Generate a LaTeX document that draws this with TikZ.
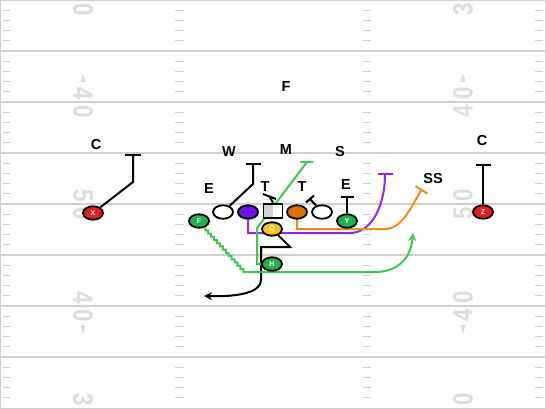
\documentclass[tikz,border=0pt]{standalone}
\usepackage{fontspec}
\setmainfont{Liberation Sans}
\usetikzlibrary{shapes.geometric,arrows.meta,calc}
\pgfdeclarelayer{background}
\pgfsetlayers{background,main}
\definecolor{fieldline}{HTML}{CFCFCF}
\definecolor{numgray}{HTML}{DDDDDD}
\definecolor{pgreen}{HTML}{22B14C}
\definecolor{rgreen}{HTML}{3CC850}
\definecolor{ppurple}{HTML}{7015E8}
\definecolor{rpurple}{HTML}{8A2BF0}
\definecolor{porange}{HTML}{E07000}
\definecolor{rorange}{HTML}{F08A1C}
\definecolor{pyellow}{HTML}{F5C518}
\definecolor{pred}{HTML}{E81B23}
\tikzset{
  fieldln/.style={draw=fieldline, line width=1.3pt},
  hashmark/.style={draw=fieldline, line width=1pt},
  numl/.style={text=numgray, inner sep=0pt, rotate=-90, font=\fontsize{28}{28}\selectfont\bfseries},
  numr/.style={text=numgray, inner sep=0pt, rotate=90, font=\fontsize{28}{28}\selectfont\bfseries},
  player/.style={ellipse, draw=black, line width=1.8pt, minimum width=20pt, minimum height=13.5pt, inner sep=0pt, text=white, font=\fontsize{7}{7}\selectfont\bfseries},
  lbl/.style={inner sep=0pt, font=\fontsize{14.5}{14.5}\selectfont\bfseries},
  rt/.style={draw=black, line width=2pt},
  rtg/.style={draw=rgreen, line width=2pt},
}
\begin{document}
\begin{tikzpicture}[x=1pt,y=-1pt]
\useasboundingbox (0,0) rectangle (546,409);

% players
\node[player, fill=pred] (X) at (93,213) {X};
\node[player, fill=pred] (Z) at (483,212) {Z};
\node[player, fill=white] (LT) at (223,212) {};
\node[player, fill=ppurple] (LG) at (248,212) {};
\node[draw, line width=1.8pt, minimum width=19pt, minimum height=14.5pt, inner sep=0pt, fill=white,
  path picture={\fill[gray!35] (path picture bounding box.south west) rectangle (path picture bounding box.north);}] (C) at (273,211) {};
\node[player, fill=porange] (RG) at (297,212) {};
\node[player, fill=white] (RT) at (322,212) {};
\node[player, fill=pgreen] (Y) at (347,221) {Y};
\node[player, fill=pgreen] (F) at (199,221) {F};
\node[player, fill=pyellow] (Q) at (272,229) {Q};
\node[player, fill=pgreen] (H) at (272,264) {H};

% defender labels
\node[lbl] (dF) at (286,87) {F};
\node[lbl] (dCL) at (96,145) {C};
\node[lbl] (dCR) at (482,141) {C};
\node[lbl] (dW) at (229,152) {W};
\node[lbl] (dM) at (286,150) {M};
\node[lbl] (dS) at (340,152) {S};
\node[lbl] (dEL) at (209,189) {E};
\node[lbl] (dTL) at (265,187) {T};
\node[lbl] (dTR) at (302,187) {T};
\node[lbl] (dER) at (346,185) {E};
\node[lbl] (dSS) at (433,179) {SS};

\begin{pgfonlayer}{background}
% field
\foreach \yy in {51,102,153,204,255,306,357} \draw[fieldln] (0,\yy) -- (546,\yy);
\draw[fieldln] (0.7,0.7) rectangle (545.3,408.3);
\foreach \k in {0,...,7} {
  \foreach \j in {1,...,4} {
    \pgfmathsetmacro\hy{51*\k+10.2*\j}
    \draw[hashmark] (3,\hy) -- (10,\hy);
    \draw[hashmark] (175,\hy) -- (184,\hy);
    \draw[hashmark] (363,\hy) -- (371,\hy);
    \draw[hashmark] (535,\hy) -- (543,\hy);
  }
}
% field numbers
\foreach \yy/\da/\db in {0/3/0,102/4/0,204/5/0,306/4/0,408/3/0} {
  \node[numl] at (83,\yy-8.5) {\scalebox{0.8}[1]{\da}};
  \node[numl] at (83,\yy+9.5) {\scalebox{0.8}[1]{\db}};
  \node[numr] at (463,\yy-8.5) {\scalebox{0.8}[1]{\db}};
  \node[numr] at (463,\yy+9.5) {\scalebox{0.8}[1]{\da}};
}
\foreach \xx in {83,463} {
  \fill[numgray] (\xx-2.6,82) -- (\xx,73) -- (\xx+2.6,82) -- cycle;
  \fill[numgray] (\xx-2.6,325) -- (\xx,334) -- (\xx+2.6,325) -- cycle;
}

% routes
\draw[rt, draw=rpurple, -{Bar[width=15pt]}] (LG.south) -- (248,233) -- (350,233) .. controls (372,233) and (385,205) .. (385,173);
\draw[rt, draw=rorange, -{Bar[width=14pt]}] (RG.south) -- (297,229) -- (385,229) .. controls (403,229) and (413,203) .. (422,189);
\draw[rt, -{Bar[width=16pt]}] (X) -- (133,182) -- (133,154);
\draw[rt, -{Bar[width=15pt]}] (Z) -- (483,164);
\draw[rt, -{Bar[width=15pt]}] (LT) -- (253,184) -- (253,163);
\draw[rt, -{Bar[width=13pt]}] (Y) -- (347,196);
\coordinate (cb) at (269.5,196.5);
\draw[rt] (C.north) -- (cb);
\draw[rt] (263,194) -- (276,199);
\coordinate (tb) at (310,199);
\draw[rt] (RT) -- (tb);
\draw[rt] (306,202.5) -- (314,195.5);
\draw[rt, -{Stealth[length=8pt,width=8pt]}] (Q) -- (290,247) -- (261,247) -- (261,280) .. controls (261,292) and (240,297) .. (204,296);
\coordinate (mb) at (307,162);
\draw[rtg] (H) -- (257,264) -- (257,228) -- (mb);
\draw[rtg] (300,162) -- (313,162);
\draw[rtg, -{Stealth[length=8pt,width=8pt]}] (F.-45) \foreach \i in {1,...,14} { -- ++(0,3.2) -- ++(2.93,0) } -- (375,272) .. controls (398,272) and (411,258) .. (413,233);
\end{pgfonlayer}
\end{tikzpicture}
\end{document}
